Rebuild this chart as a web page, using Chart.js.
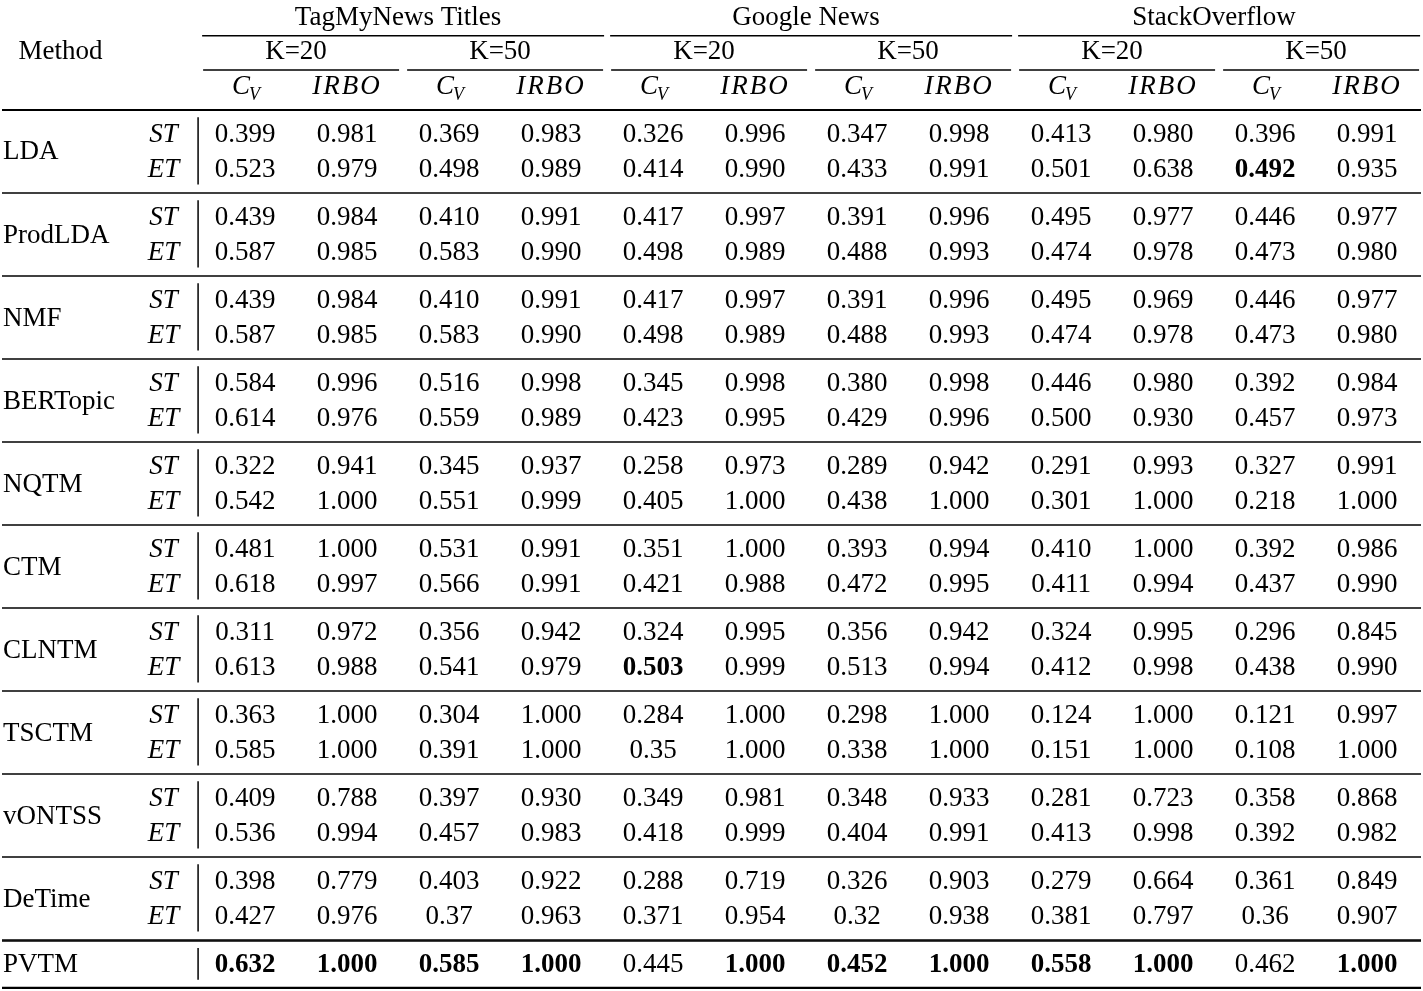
<!DOCTYPE html>
<html><head><meta charset="utf-8">
<script src="https://cdn.jsdelivr.net/npm/chart.js@4"></script>
<style>html,body{margin:0;padding:0;background:#fff}canvas{display:block}</style>
</head><body>
<canvas id="c" width="1423" height="991"></canvas>
<script>
const datasetsNames = ["TagMyNews Titles","Google News","StackOverflow"];
const kLabels = ["K=20","K=50"];
const methods = ["LDA","ProdLDA","NMF","BERTopic","NQTM","CTM","CLNTM","TSCTM","vONTSS","DeTime"];
const stRows = [
 ["0.399","0.981","0.369","0.983","0.326","0.996","0.347","0.998","0.413","0.980","0.396","0.991"],
 ["0.439","0.984","0.410","0.991","0.417","0.997","0.391","0.996","0.495","0.977","0.446","0.977"],
 ["0.439","0.984","0.410","0.991","0.417","0.997","0.391","0.996","0.495","0.969","0.446","0.977"],
 ["0.584","0.996","0.516","0.998","0.345","0.998","0.380","0.998","0.446","0.980","0.392","0.984"],
 ["0.322","0.941","0.345","0.937","0.258","0.973","0.289","0.942","0.291","0.993","0.327","0.991"],
 ["0.481","1.000","0.531","0.991","0.351","1.000","0.393","0.994","0.410","1.000","0.392","0.986"],
 ["0.311","0.972","0.356","0.942","0.324","0.995","0.356","0.942","0.324","0.995","0.296","0.845"],
 ["0.363","1.000","0.304","1.000","0.284","1.000","0.298","1.000","0.124","1.000","0.121","0.997"],
 ["0.409","0.788","0.397","0.930","0.349","0.981","0.348","0.933","0.281","0.723","0.358","0.868"],
 ["0.398","0.779","0.403","0.922","0.288","0.719","0.326","0.903","0.279","0.664","0.361","0.849"]
];
const etRows = [
 ["0.523","0.979","0.498","0.989","0.414","0.990","0.433","0.991","0.501","0.638","*0.492","0.935"],
 ["0.587","0.985","0.583","0.990","0.498","0.989","0.488","0.993","0.474","0.978","0.473","0.980"],
 ["0.587","0.985","0.583","0.990","0.498","0.989","0.488","0.993","0.474","0.978","0.473","0.980"],
 ["0.614","0.976","0.559","0.989","0.423","0.995","0.429","0.996","0.500","0.930","0.457","0.973"],
 ["0.542","1.000","0.551","0.999","0.405","1.000","0.438","1.000","0.301","1.000","0.218","1.000"],
 ["0.618","0.997","0.566","0.991","0.421","0.988","0.472","0.995","0.411","0.994","0.437","0.990"],
 ["0.613","0.988","0.541","0.979","*0.503","0.999","0.513","0.994","0.412","0.998","0.438","0.990"],
 ["0.585","1.000","0.391","1.000","0.35","1.000","0.338","1.000","0.151","1.000","0.108","1.000"],
 ["0.536","0.994","0.457","0.983","0.418","0.999","0.404","0.991","0.413","0.998","0.392","0.982"],
 ["0.427","0.976","0.37","0.963","0.371","0.954","0.32","0.938","0.381","0.797","0.36","0.907"]
];
const pvtmName = "PVTM";
const pvtmRow = ["*0.632","*1.000","*0.585","*1.000","0.445","*1.000","*0.452","*1.000","*0.558","*1.000","0.462","*1.000"];

// scale positions (in column / row units)
const METHOD_X = -1.81, METHOD_LEFT = -2.372, TAG_X = -0.80, VLINE_X = -0.46;
const ET_OFF = 0.42, PVTM_Y = 10.0;
const H1 = -1.41, H2 = -1.0, H3 = -0.578;

const pts = [];
stRows.forEach((r,i)=>r.forEach((v,j)=>pts.push({x:j,y:i,t:v})));
etRows.forEach((r,i)=>r.forEach((v,j)=>pts.push({x:j,y:i+ET_OFF,t:v})));
pvtmRow.forEach((v,j)=>pts.push({x:j,y:PVTM_Y,t:v}));

const SERIF = '"Liberation Serif","DejaVu Serif",serif';
const tablePlugin = {
  id:'table',
  afterDraw(chart){
    const ctx = chart.ctx, xs = chart.scales.x, ys = chart.scales.y;
    const X = v=>xs.getPixelForValue(v), Y = v=>ys.getPixelForValue(v);
    ctx.save();
    ctx.fillStyle = '#000'; ctx.strokeStyle = '#000';
    ctx.textBaseline = 'middle';
    const txt = (s,x,y,font,align)=>{ctx.font=font;ctx.textAlign=align||'center';ctx.fillText(s,x,y+2);};
    const N = '27px '+SERIF, B = 'bold 27px '+SERIF, I = 'italic 27px '+SERIF;
    pts.forEach(p=>{
      const bold = p.t[0]==='*';
      txt(bold?p.t.slice(1):p.t, X(p.x), Y(p.y), bold?B:N);
    });
    txt("Method", X(METHOD_X), Y(H2), N);
    datasetsNames.forEach((n,d)=>txt(n, X(d*4+1.5), Y(H1), N));
    for(let k=0;k<6;k++) txt(kLabels[k%2], X(k*2+0.5), Y(H2), N);
    for(let c=0;c<12;c++){
      if(c%2===0){
        txt("C", X(c)-4, Y(H3), I);
        ctx.font = 'italic 18px '+SERIF; ctx.textAlign='left';
        ctx.fillText("V", X(c)+4, Y(H3)+10);
      } else {
        ctx.font = I; ctx.textAlign='center';
        if (ctx.letterSpacing!==undefined) ctx.letterSpacing='2px';
        ctx.fillText("IRBO", X(c), Y(H3)+2);
        if (ctx.letterSpacing!==undefined) ctx.letterSpacing='0px';
      }
    }
    methods.forEach((m,i)=>{
      txt(m, X(METHOD_LEFT), Y(i+ET_OFF/2), N, 'left');
      txt("ST", X(TAG_X), Y(i), I);
      txt("ET", X(TAG_X), Y(i+ET_OFF), I);
    });
    txt(pvtmName, X(METHOD_LEFT), Y(PVTM_Y), N, 'left');
    const hl = (x1,x2,y,w)=>{ctx.lineWidth=w;ctx.beginPath();ctx.moveTo(x1,y);ctx.lineTo(x2,y);ctx.stroke();};
    const vl = (x,y1,y2,w)=>{ctx.lineWidth=w;ctx.beginPath();ctx.moveTo(x,y1);ctx.lineTo(x,y2);ctx.stroke();};
    const L = xs.left+2, R = xs.right-2;
    for(let d=0;d<3;d++) hl(X(d*4-0.44)+2, X(d*4+3.54)-2, Y(-1.17), 1.5);
    for(let k=0;k<6;k++) hl(X(k*2-0.44)+3, X(k*2+1.54)-3, Y(-0.76), 1.5);
    hl(L,R,Y(-0.277),1.8);
    for(let i=0;i<10;i++) hl(L,R,Y(i+0.723),1.5);
    hl(L,R,Y(9.723)+1,1.5);
    hl(L,R,Y(10.30),2.2);
    for(let i=0;i<10;i++) vl(X(VLINE_X), Y(i-0.19), Y(i+ET_OFF+0.2), 1.5);
    vl(X(VLINE_X), Y(PVTM_Y-0.18), Y(PVTM_Y+0.2), 1.5);
    ctx.restore();
  }
};

new Chart(document.getElementById('c'), {
  type:'scatter',
  data:{datasets:[{data:pts, pointRadius:0, pointHoverRadius:0, backgroundColor:'rgba(0,0,0,0)'}]},
  options:{
    responsive:false, animation:false,
    layout:{padding:0},
    plugins:{legend:{display:false}, tooltip:{enabled:false}},
    scales:{
      x:{type:'linear', display:false, min:-2.402, max:11.549},
      y:{type:'linear', display:false, reverse:true, min:-1.602, max:10.337}
    }
  },
  plugins:[tablePlugin]
});
</script>
</body></html>
